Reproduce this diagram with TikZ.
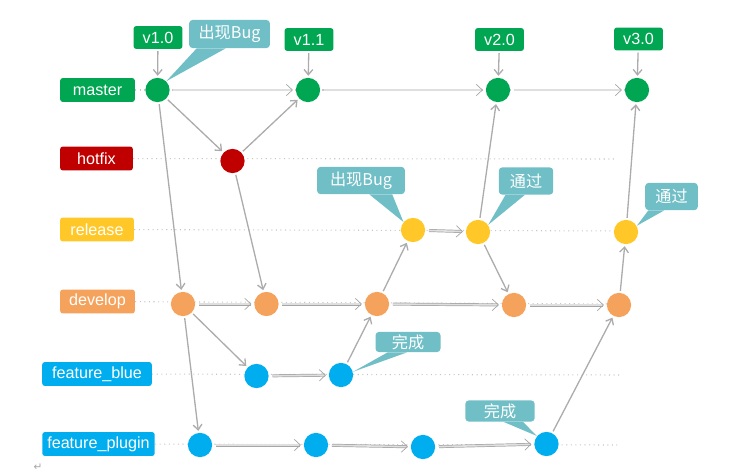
\documentclass[tikz,border=0pt]{standalone}
\usepackage{fontspec}
\setmainfont{Liberation Sans}
\newfontfamily\cjk{Noto Sans CJK SC}
\newfontfamily\symfont{DejaVu Sans}
\usetikzlibrary{arrows.meta}

\definecolor{gitgreen}{RGB}{0,166,81}
\definecolor{gitred}{RGB}{192,0,0}
\definecolor{gityellow}{RGB}{255,200,40}
\definecolor{gitorange}{RGB}{245,162,92}
\definecolor{gitblue}{RGB}{0,174,239}
\definecolor{noteteal}{RGB}{112,190,198}

\tikzset{
  branch/.style={rounded corners=1.5pt, text=white, minimum height=13.6pt, inner sep=1pt,
    font=\fontsize{9.2}{10}\selectfont},
  commit/.style={circle, minimum size=13.8pt, inner sep=0pt},
  tag/.style={fill=gitgreen, rounded corners=1.5pt, text=white, minimum width=27.8pt,
    minimum height=13pt, inner sep=1pt, font=\fontsize{9.2}{10}\selectfont},
  note/.style={fill=noteteal, rounded corners=2pt, text=white, minimum height=15.5pt,
    inner sep=1pt, font=\cjk\fontsize{9.2}{10}\selectfont},
  lane/.style={draw=gray!45, dotted, line width=0.6pt},
  merge/.style={draw=gray!70, double=gray!25, double distance=0.9pt,
    -{Straight Barb[length=3.5pt,width=6.5pt]}, shorten <=2pt, shorten >=1.5pt},
  link/.style={draw=gray!65, line width=0.75pt, -{Straight Barb[length=3pt,width=5pt]},
    shorten <=1pt, shorten >=1pt}
}

\begin{document}
\begin{tikzpicture}[x=0.02cm, y=-0.02cm]
    \useasboundingbox (0,0) rectangle (740,474);

    % 分支标签
    \node[branch, fill=gitgreen, minimum width=42.5pt] (lmaster) at (97.5,90) {master};
    \node[branch, fill=gitred, minimum width=41.4pt] (lhotfix) at (96.5,158.5) {hotfix};
    \node[branch, fill=gityellow, minimum width=42pt] (lrelease) at (97,229.5) {release};
    \node[branch, fill=gitorange, minimum width=42.5pt] (ldevelop) at (97.5,301.5) {develop};
    \node[branch, fill=gitblue, minimum width=62.4pt] (lblue) at (97,374) {feature\_blue};
    \node[branch, fill=gitblue, minimum width=64pt] (lplugin) at (98.5,444) {feature\_plugin};

    % 虚线
    \coordinate (emaster) at (650,90);
    \coordinate (ehotfix) at (615,159);
    \coordinate (erelease) at (640,231);
    \coordinate (edevelop) at (630,304);
    \coordinate (eblue) at (622,375);
    \coordinate (eplugin) at (617,445);
    \draw[lane] (lmaster) -- (emaster);
    \draw[lane] (lhotfix) -- (ehotfix);
    \draw[lane] (lrelease) -- (erelease);
    \draw[lane] (ldevelop) -- (edevelop);
    \draw[lane] (lblue) -- (eblue);
    \draw[lane] (lplugin) -- (eplugin);

    % master
    \node[commit, fill=gitgreen] (m1) at (157.5,90) {};
    \node[commit, fill=gitgreen] (m2) at (308,90) {};
    \node[commit, fill=gitgreen] (m3) at (498,90) {};
    \node[commit, fill=gitgreen] (m4) at (637,90) {};

    % hotfix
    \node[commit, fill=gitred] (h1) at (232.5,161) {};

    % release
    \node[commit, fill=gityellow] (r1) at (413,230) {};
    \node[commit, fill=gityellow] (r2) at (478,232) {};
    \node[commit, fill=gityellow] (r3) at (626,232) {};

    % develop
    \node[commit, fill=gitorange] (d1) at (183,304) {};
    \node[commit, fill=gitorange] (d2) at (266.5,304) {};
    \node[commit, fill=gitorange] (d3) at (377,304) {};
    \node[commit, fill=gitorange] (d4) at (514,305) {};
    \node[commit, fill=gitorange] (d5) at (619,305) {};

    % feature_blue
    \node[commit, fill=gitblue] (b1) at (256.5,376) {};
    \node[commit, fill=gitblue] (b2) at (341,375) {};

    % feature_plugin
    \node[commit, fill=gitblue] (p1) at (200,445) {};
    \node[commit, fill=gitblue] (p2) at (316,445) {};
    \node[commit, fill=gitblue] (p3) at (423,447) {};
    \node[commit, fill=gitblue] (p4) at (546.5,444) {};

    % 版本标签
    \node[tag] (v10) at (158,37.5) {v1.0};
    \node[tag] (v11) at (309,39.5) {v1.1};
    \node[tag] (v20) at (499.5,39.5) {v2.0};
    \node[tag] (v30) at (638.5,39) {v3.0};
    \draw[link] (v10) -- (m1);
    \draw[link] (v11) -- (m2);
    \draw[link] (v20) -- (m3);
    \draw[link] (v30) -- (m4);

    % 水平箭头
    \draw[merge] (m1) -- (m2);
    \draw[merge] (m2) -- (m3);
    \draw[merge] (m3) -- (m4);
    \draw[merge] (r1) -- (r2);
    \draw[merge] (d1) -- (d2);
    \draw[merge] (d2) -- (d3);
    \draw[merge] (d3) -- (d4);
    \draw[merge] (d4) -- (d5);
    \draw[merge] (b1) -- (b2);
    \draw[merge] (p1) -- (p2);
    \draw[merge] (p2) -- (p3);
    \draw[merge] (p3) -- (p4);

    % 斜向箭头
    \draw[link] (m1) -- (h1);
    \draw[link] (h1) -- (m2);
    \draw[link] (m1) -- (d1);
    \draw[link] (h1) -- (d2);
    \draw[link] (d3) -- (r1);
    \draw[link] (r2) -- (m3);
    \draw[link] (r2) -- (d4);
    \draw[link] (d5) -- (r3);
    \draw[link] (r3) -- (m4);
    \draw[link] (d1) -- (b1);
    \draw[link] (d1) -- (p1);
    \draw[link] (b2) -- (d3);
    \draw[link] (p4) -- (d5);

    % 说明框
    \node[note, minimum width=46pt, minimum height=16pt] (bug1) at (229.5,34) {出现Bug};
    \fill[noteteal] ([xshift=4.5pt]bug1.south west) -- (m1.45) -- ([xshift=21pt]bug1.south west) -- cycle;

    \node[note, minimum width=50pt] (bug2) at (361,180.5) {出现Bug};
    \fill[noteteal] ([xshift=30pt]bug2.south west) -- (r1.140) -- ([xshift=43pt]bug2.south west) -- cycle;

    \node[note, minimum width=31pt] (pass1) at (526,181) {通过};
    \fill[noteteal] ([xshift=4pt]pass1.south west) -- (r2.35) -- ([xshift=15pt]pass1.south west) -- cycle;

    \node[note, minimum width=30pt] (pass2) at (671.5,196.5) {通过};
    \fill[noteteal] ([xshift=2pt]pass2.south west) -- (r3.30) -- ([xshift=11pt]pass2.south west) -- cycle;

    \node[note, minimum width=37pt, minimum height=11.5pt] (done1) at (408,342) {完成};
    \fill[noteteal] ([xshift=7pt]done1.south west) -- (b2.15) -- ([xshift=18pt]done1.south west) -- cycle;

    \node[note, minimum width=39.5pt, minimum height=12pt] (done2) at (500,411) {完成};
    \fill[noteteal] ([xshift=22pt]done2.south west) -- (p4.140) -- ([xshift=33pt]done2.south west) -- cycle;

    % 段落标记
    \node[text=gray!70, font=\symfont\fontsize{6}{6}\selectfont] (pmark) at (38,467) {↵};
\end{tikzpicture}
\end{document}
